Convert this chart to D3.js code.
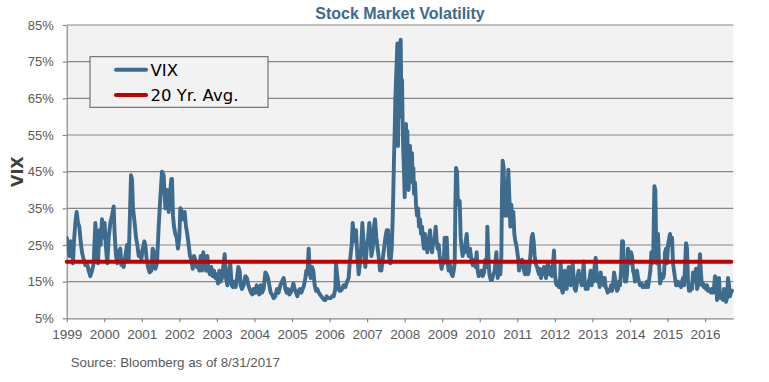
<!DOCTYPE html>
<html><head><meta charset="utf-8">
<script src="https://cdn.jsdelivr.net/npm/d3@7"></script>
<style>
html,body{margin:0;padding:0;background:#fff;}
svg{display:block;}
</style></head>
<body>
<svg id="chart" width="769" height="382"></svg>
<script>
const chartTitle = "Stock Market Volatility";
const yAxisTitle = "VIX";
const sourceNote = "Source: Bloomberg as of 8/31/2017";
const seriesNames = ["VIX", "20 Yr. Avg."];
const yTicks = [5, 15, 25, 35, 45, 55, 65, 75, 85];
const xYears = [1999,2000,2001,2002,2003,2004,2005,2006,2007,2008,2009,2010,2011,2012,2013,2014,2015,2016];
const xDomain = [1999, 2016.752];
const avg20 = 20.4;

// time positions (decimal chart-years) and VIX level (%)
const dates = [
1999.000,1999.035,1999.070,1999.106,1999.141,1999.168,1999.194,1999.230,1999.265,1999.301,
1999.336,1999.372,1999.407,1999.452,1999.496,1999.541,1999.585,1999.629,1999.674,1999.718,
1999.763,1999.798,1999.834,1999.869,1999.905,1999.940,1999.976,2000.011,2000.047,2000.082,
2000.118,2000.162,2000.206,2000.251,2000.277,2000.313,2000.348,2000.384,2000.428,2000.455,
2000.490,2000.517,2000.561,2000.606,2000.650,2000.686,2000.712,2000.739,2000.766,2000.810,
2000.846,2000.881,2000.917,2000.952,2000.988,2001.023,2001.067,2001.094,2001.130,2001.165,
2001.209,2001.254,2001.289,2001.325,2001.360,2001.405,2001.449,2001.494,2001.538,2001.582,
2001.627,2001.671,2001.716,2001.760,2001.787,
2001.804,2001.831,2001.857,2001.893,2001.928,2001.964,2001.999,2002.026,2002.070,2002.106,
2002.141,2002.177,2002.212,2002.248,2002.283,2002.319,2002.354,2002.390,2002.425,2002.461,
2002.496,2002.532,2002.567,2002.603,2002.638,2002.674,2002.709,2002.745,2002.780,2002.816,
2002.851,2002.887,2002.922,2002.958,2002.993,2003.029,2003.064,2003.100,2003.135,2003.180,
2003.207,2003.242,2003.278,2003.313,2003.357,2003.393,2003.428,2003.464,2003.499,2003.535,
2003.570,2003.606,2003.633,2003.668,2003.712,2003.757,2003.801,2003.837,2003.872,2003.908,
2003.943,2003.979,2004.023,2004.059,2004.094,2004.130,2004.165,2004.201,2004.245,2004.290,
2004.325,2004.361,2004.396,2004.432,2004.467,2004.512,2004.556,2004.600,2004.645,2004.689,
2004.734,2004.778,2004.823,2004.858,2004.894,2004.929,2004.965,2005.000,2005.036,2005.071,
2005.107,2005.142,2005.178,2005.213,2005.249,2005.284,2005.320,2005.355,2005.382,2005.409,
2005.444,2005.471,2005.497,2005.533,2005.568,2005.604,2005.639,2005.675,2005.710,2005.746,
2005.781,2005.817,2005.852,2005.888,2005.923,2005.959,2005.994,2006.030,2006.065,2006.110,
2006.154,2006.172,2006.199,2006.225,2006.261,2006.296,2006.332,2006.376,2006.421,2006.465,
2006.509,2006.536,2006.563,2006.589,2006.616,2006.643,2006.669,2006.705,2006.740,2006.776,
2006.811,2006.847,2006.873,2006.909,2006.953,2006.989,2007.024,2007.060,2007.086,2007.113,
2007.149,2007.184,2007.211,2007.246,2007.282,2007.317,
2007.344,2007.380,2007.415,2007.451,2007.486,2007.522,2007.557,2007.584,2007.619,2007.655,
2007.681,2007.699,2007.717,2007.735,2007.752,2007.770,2007.788,2007.806,2007.823,2007.841,
2007.859,2007.877,2007.894,2007.912,2007.930,2007.948,2007.965,2007.983,2008.001,2008.019,
2008.036,2008.054,2008.072,2008.090,2008.107,2008.125,2008.143,2008.170,2008.196,2008.214,
2008.232,2008.249,2008.276,2008.303,2008.329,2008.356,2008.383,2008.409,2008.436,2008.463,
2008.489,2008.516,2008.542,2008.569,2008.605,2008.640,2008.676,2008.702,2008.729,2008.764,
2008.800,2008.826,2008.853,2008.880,2008.906,2008.933,2008.960,2008.986,2009.013,2009.040,
2009.066,2009.093,2009.120,2009.146,2009.173,2009.199,2009.226,2009.253,2009.279,2009.306,
2009.333,2009.350,2009.368,2009.395,2009.412,2009.439,2009.466,2009.492,2009.519,2009.545,
2009.572,2009.599,2009.625,2009.652,2009.679,2009.705,2009.741,2009.776,2009.812,2009.847,
2009.883,2009.918,2009.945,2009.972,2010.007,2010.043,2010.078,2010.114,2010.149,2010.185,
2010.202,2010.229,2010.256,2010.291,2010.327,2010.362,2010.398,
2010.406,2010.442,2010.477,2010.513,2010.548,2010.575,2010.592,2010.610,2010.637,2010.663,
2010.690,2010.717,2010.743,2010.761,2010.788,2010.814,2010.841,2010.868,2010.894,2010.921,
2010.948,2010.974,2011.001,2011.027,2011.045,2011.072,2011.098,2011.125,2011.152,2011.178,
2011.205,2011.232,2011.258,2011.285,2011.311,2011.347,2011.382,2011.409,2011.436,2011.462,
2011.489,2011.525,2011.551,2011.578,2011.604,2011.631,2011.658,2011.684,2011.711,2011.738,
2011.764,2011.791,2011.817,2011.844,2011.871,2011.897,2011.924,2011.951,2011.977,2012.004,
2012.031,2012.057,2012.084,2012.110,2012.137,2012.155,2012.181,2012.208,2012.235,2012.261,
2012.288,2012.315,2012.341,2012.368,2012.394,2012.421,2012.448,2012.474,2012.501,2012.528,
2012.554,2012.581,2012.608,2012.634,2012.661,2012.687,2012.714,2012.741,2012.767,2012.794,
2012.821,2012.847,2012.874,2012.900,2012.927,2012.954,2012.980,2013.007,2013.034,2013.060,
2013.087,2013.114,2013.140,2013.167,2013.193,2013.220,2013.247,2013.273,2013.300,2013.327,
2013.353,2013.380,2013.406,2013.433,
2013.469,2013.496,2013.522,2013.549,2013.576,2013.602,2013.629,2013.655,2013.682,2013.709,
2013.735,2013.762,2013.789,2013.815,2013.842,2013.869,2013.895,2013.922,2013.948,2013.975,
2014.002,2014.028,2014.055,2014.082,2014.108,2014.135,2014.161,2014.188,2014.215,2014.241,
2014.268,2014.303,2014.339,2014.374,2014.410,2014.445,2014.481,2014.516,2014.543,2014.570,
2014.596,2014.623,2014.650,2014.676,2014.694,2014.712,2014.730,2014.747,2014.774,2014.801,
2014.827,2014.854,2014.880,2014.907,2014.934,2014.960,2014.987,2015.014,2015.040,2015.067,
2015.094,2015.120,2015.147,2015.173,2015.200,2015.227,2015.253,2015.280,2015.307,2015.333,
2015.360,2015.386,2015.413,2015.440,2015.466,2015.493,2015.520,2015.546,2015.573,2015.600,
2015.626,2015.653,2015.679,2015.706,2015.733,2015.759,2015.786,2015.813,2015.839,2015.866,
2015.892,2015.919,2015.946,2015.972,2015.999,2016.026,2016.052,2016.079,2016.105,2016.132,
2016.159,2016.185,2016.212,2016.239,2016.265,2016.292,2016.318,2016.345,2016.372,2016.398,
2016.425,2016.451,2016.478,2016.505,2016.531,2016.558,2016.585,2016.611,2016.638,2016.665,
2016.691,2016.718
];
const vix = [
27,25,22,26,25,20,26,31,34,31,
30,26,23,21,19.5,20,18,16.5,18,20,
31,24,20,29,25,32,27,31,24,20,
27,31,33,35.5,28,22,20,23,24,19.5,
21,19,22,25,21,34,44,43,35,31,
27,25,22,23,21,24,26,25,21,19,
17.5,18,24,23,18.5,20,30,38,45,44,
35,40,34,40,43,
43,33,30,28,27,24,27,35,34,32,
34,30,28,25,22,21,18.5,22,21,19,
20,18,22,18,23,19,18,22,18,17,
19,16.5,18,16,17,14.5,18,15,16,20,
22.5,16,14,17,20,14,13.5,15,13.5,16,
19,18,14,13,14,16.5,16,14,13,12,
11.5,13,12,14,12,11.5,14,12,13,17.5,
17,16,14,12,11.5,10.5,11,13,12,14,
15,16,13,12,13,11.5,12,13,14.5,13,
12,11,12.5,13,12,13,14,16,18,17,
24,18,16,19,18,14,12.5,13,12,11.5,
11,10.5,10,10,11,10.5,10.5,10.5,11,11,
13,20,17,15,12.5,12.5,13,14,13.5,15,
16,20,22.5,25,31,28,26,29,22,17,
20,25,31,25,19,24,27,31,28,22,
24,30,32,27,24,21,
18,18,21,24,27,29,29,22,20,24,
32,40,49,56,65,70,75,80,52,75,
60,79,81,65,70,57,50,45,38,47,
58,50,56,43,40,47,52,44,50,42,
46,39,42,36,33,35,30,32,28,30,
26,24,28,25,23,26,29,25,23,26,
27,30,26,24,25,22,20,18.5,21,20,
27,25,27,20,18,20,18,17,16.5,18,
20,35,46,45,38,36,37,27,24,22,
24,23,26,28,24,22,24,21,19.5,21,
19,23,18,16.5,17,18,16.5,17.5,21,19,
30,22,17,15.5,15.5,17,18,
19,23,16,18,17,22,40,48,46,33,
42,33,40,45.5,38,30,36,31,34,28,
26,25,23,21,18,20,19,21,20,18,
17,20,18.5,17,18,22,27,28,26,22,
20,19,18,17,18.5,16,18,17,19,18,
16,19,20,17,19,17,16.5,20,23.5,17,
14.5,14,15,13.5,15,20,13,12,13,18,
14,13,17,19,15,14,17,20,16,13,
12.5,14,16.5,18,15,17,14,16,20.5,15,
13,14,13,15,16,18,14,17,15,19.5,
21.5,17,15,16,13.5,17.5,15,16,14,16,
13.5,13,12,12.5,
12.5,14,12.5,14,17.5,16,14,12.5,13,15,
14,18,26,26,18,15,15,17,24,22,
20,23,22,18,17,15,17.5,18,16,15,
14,14.5,13.5,14,13.5,15,13.5,16,18,23,
20,24,41,40,28,20,24,28,20,14.5,
15.5,17,16,17,23,24,20,25,26.5,28,
25,27,20,18,16,14,14,15,14,14.5,
13.5,15,16,14,19,25.5,24,15,12.5,12.5,
14,13,17.5,15,16,18.5,13,14,18,22.5,
17,14,14.5,13.5,14,13,14,12.5,13,12.5,
12,13,12,13.5,16.5,15.5,10,10.5,16,11,
10.5,11,10,13,11,9.5,10.5,16,14,11,
12,12.5
];

const colors = { vix: "#3d6c8e", avg: "#c00000", grid: "#888888", text: "#595959", title: "#3b6a8e" };

const svg = d3.select("#chart");
const L = 66.7, R = 733.3, T = 25, B = 318.3;
const x = d3.scaleLinear().domain(xDomain).range([L, R]);
const y = d3.scaleLinear().domain([5, 85]).range([B, T]);

// plot background
svg.append("rect").attr("x", L).attr("y", T).attr("width", R - L).attr("height", B - T).attr("fill", "#f2f2f2");

// gridlines
svg.append("g").selectAll("line").data(yTicks.filter(d => d > 5)).join("line")
  .attr("x1", L).attr("x2", R).attr("y1", d => y(d)).attr("y2", d => y(d))
  .attr("stroke", colors.grid).attr("stroke-width", 1.2);

// y axis
const yAxis = svg.append("g").attr("transform", `translate(${L},0)`)
  .call(d3.axisLeft(y).tickValues(yTicks).tickFormat(d => d + "%").tickSize(4).tickSizeOuter(0).tickPadding(9));
// x axis
const xAxis = svg.append("g").attr("transform", `translate(0,${B})`)
  .call(d3.axisBottom(x).tickValues(xYears).tickFormat(d3.format("d")).tickSize(4).tickSizeOuter(0).tickPadding(7));
[yAxis, xAxis].forEach(g => {
  g.select(".domain").attr("stroke", colors.grid).attr("stroke-width", 1.2);
  g.selectAll(".tick line").attr("stroke", colors.grid).attr("stroke-width", 1.2);
  g.selectAll("text").attr("fill", colors.text).attr("font-family", "Arial, 'Liberation Sans', sans-serif").attr("font-size", 13);
});
xAxis.selectAll("text").attr("font-size", 13.5);

// clip
svg.append("clipPath").attr("id", "plotclip").append("rect")
  .attr("x", L).attr("y", T - 2).attr("width", R - L + 2).attr("height", B - T + 2);

// VIX line
const pts = dates.map((d, i) => [d, vix[i]]);
svg.append("path").datum(pts)
  .attr("clip-path", "url(#plotclip)")
  .attr("fill", "none").attr("stroke", colors.vix).attr("stroke-width", 3.9)
  .attr("stroke-linejoin", "round").attr("stroke-linecap", "round")
  .attr("d", d3.line().x(d => x(d[0])).y(d => y(d[1])));

// 20 yr average
svg.append("line").attr("x1", x(xDomain[0])).attr("x2", x(xDomain[1]) - 2)
  .attr("y1", y(avg20)).attr("y2", y(avg20))
  .attr("stroke", colors.avg).attr("stroke-width", 4).attr("stroke-linecap", "round");

// title
svg.append("text").attr("x", (L + R) / 2).attr("y", 19).attr("text-anchor", "middle")
  .attr("font-family", "Arial, 'Liberation Sans', sans-serif").attr("font-weight", "bold").attr("font-size", 16)
  .attr("fill", colors.title).text(chartTitle);

// y axis title
svg.append("text").attr("transform", `translate(23,${(T + B) / 2}) rotate(-90)`).attr("text-anchor", "middle")
  .attr("font-family", "'DejaVu Sans', Verdana, sans-serif").attr("font-weight", "bold").attr("font-size", 16)
  .attr("fill", "#404040").text(yAxisTitle);

// legend
const lg = svg.append("g");
lg.append("rect").attr("x", 90).attr("y", 56.7).attr("width", 178).attr("height", 50.6)
  .attr("fill", "#f2f2f2").attr("stroke", "#595959").attr("stroke-width", 1);
const legendItems = [{ name: seriesNames[0], color: colors.vix, cy: 69.7 }, { name: seriesNames[1], color: colors.avg, cy: 95 }];
legendItems.forEach(it => {
  lg.append("line").attr("x1", 116).attr("x2", 146).attr("y1", it.cy).attr("y2", it.cy)
    .attr("stroke", it.color).attr("stroke-width", 4).attr("stroke-linecap", "round");
  lg.append("text").attr("x", 150.5).attr("y", it.cy + 6.3)
    .attr("font-family", "'DejaVu Sans', Verdana, sans-serif").attr("font-size", 16.5).attr("fill", "#000")
    .text(it.name);
});

// source
svg.append("text").attr("x", 70.7).attr("y", 367)
  .attr("font-family", "Arial, 'Liberation Sans', sans-serif").attr("font-size", 13.3).attr("fill", colors.text)
  .text(sourceNote);
</script>
</body></html>
